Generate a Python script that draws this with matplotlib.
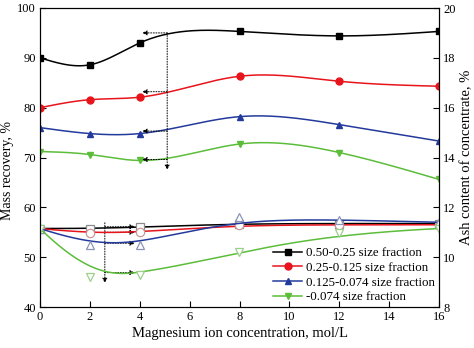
import numpy as np
import matplotlib.pyplot as plt

plt.rcParams['font.family'] = ['Liberation Serif', 'DejaVu Serif']

# Magnesium ion concentration, mol/L
conc = [0, 2, 4, 8, 12, 16]

# mass recovery, % (filled markers, left axis)
mass_050 = [90.0, 88.6, 93.0, 95.3, 94.4, 95.3]
mass_025 = [80.0, 81.6, 82.1, 86.3, 85.3, 84.3]
mass_0125 = [76.0, 74.8, 74.8, 78.2, 76.6, 73.3]
mass_0074 = [71.2, 70.6, 69.4, 72.7, 71.0, 65.6]

# ash content of concentrate, % (open markers, right axis)
ash_050 = [11.15, 11.15, 11.2, 11.35, 11.35, 11.35]
ash_025 = [11.15, 10.95, 11.0, 11.3, 11.3, 11.3]
ash_0125 = [11.15, 10.5, 10.5, 11.6, 11.5, 11.4]
ash_0074 = [11.15, 9.2, 9.3, 10.2, 10.95, 11.15]

labels = ['0.50-0.25 size fraction', '0.25-0.125 size fraction',
          '0.125-0.074 size fraction', '-0.074 size fraction']
colors = ['black', '#e8141c', '#233a9c', '#5cbd3a']
open_colors = ['#8c8c8c', '#c79a9a', '#8b94b8', '#9ccf8a']
markers = ['s', 'o', '^', 'v']


def natural_spline(x, y, n=200):
    # natural cubic spline through the points
    x = np.asarray(x, float); y = np.asarray(y, float)
    k = len(x)
    h = np.diff(x)
    A = np.zeros((k, k)); r = np.zeros(k)
    A[0, 0] = A[-1, -1] = 1
    for i in range(1, k - 1):
        A[i, i - 1] = h[i - 1]
        A[i, i] = 2 * (h[i - 1] + h[i])
        A[i, i + 1] = h[i]
        r[i] = 3 * ((y[i + 1] - y[i]) / h[i] - (y[i] - y[i - 1]) / h[i - 1])
    c = np.linalg.solve(A, r)
    xs = np.linspace(x[0], x[-1], n)
    idx = np.clip(np.searchsorted(x, xs) - 1, 0, k - 2)
    dx = xs - x[idx]
    b = (y[1:] - y[:-1]) / h - h * (2 * c[:-1] + c[1:]) / 3
    d = (c[1:] - c[:-1]) / (3 * h)
    ys = y[idx] + b[idx] * dx + c[idx] * dx ** 2 + d[idx] * dx ** 3
    return xs, ys


def bspline(x, y, n=200, deg=3):
    # clamped B-spline using the points as control points
    P = np.column_stack([x, y]).astype(float)
    m = len(P)
    inner = np.arange(1, m - deg)
    t = np.concatenate([np.zeros(deg + 1), inner, np.full(deg + 1, m - deg)]).astype(float)
    us = np.linspace(0, m - deg, n)
    us[-1] -= 1e-9

    def basis(i, p, u):
        if p == 0:
            return ((t[i] <= u) & (u < t[i + 1])).astype(float)
        out = np.zeros_like(u)
        if t[i + p] != t[i]:
            out += (u - t[i]) / (t[i + p] - t[i]) * basis(i, p - 1, u)
        if t[i + p + 1] != t[i + 1]:
            out += (t[i + p + 1] - u) / (t[i + p + 1] - t[i + 1]) * basis(i + 1, p - 1, u)
        return out

    B = np.array([basis(i, deg, us) for i in range(m)])
    pts = B.T @ P
    return pts[:, 0], pts[:, 1]


fig = plt.figure(figsize=(4.74, 3.48), dpi=100)
ax = fig.add_axes([40 / 474, 41 / 348, 399 / 474, 299 / 348])
ax2 = ax.twinx()

mass = [mass_050, mass_025, mass_0125, mass_0074]
ash = [ash_050, ash_025, ash_0125, ash_0074]

for m, a, c, oc, mk, lab in zip(mass, ash, colors, open_colors, markers, labels):
    xs, ys = natural_spline(conc, m)
    ax.plot(xs, ys, color=c, lw=1.1)
    ax.plot(conc, m, ls='none', marker=mk, color=c, ms=5)
    ax.plot([], [], color=c, lw=1.1, marker=mk, ms=5, label=lab)
    xs, ys = bspline(conc, a)
    ax2.plot(xs, ys, color=c, lw=1.1)
    ax2.plot(conc, a, ls='none', marker=mk, mfc='white', mec=oc,
             ms=6, mew=0.9)

# dotted guide lines with arrows
arr = dict(arrowstyle='-|>', color='black', lw=0.7, ls=':',
           mutation_scale=7, shrinkA=0, shrinkB=0)
ax.annotate('', xy=(5.1, 67.5), xytext=(5.1, 95.0), arrowprops=arr)
for yv in [95.0, 83.2, 75.3, 69.6]:
    ax.annotate('', xy=(4.1, yv), xytext=(5.1, yv), arrowprops=arr)
ax.annotate('', xy=(2.6, 44.8), xytext=(2.6, 56.9), arrowprops=arr)
for yv in [56.1, 55.0, 52.8, 46.9]:
    ax.annotate('', xy=(3.8, yv), xytext=(2.6, yv), arrowprops=arr)

ax.set_xlim(0, 16)
ax.set_ylim(40, 100)
ax2.set_ylim(8, 20)
ax.set_xticks(range(0, 17, 2))
ax.set_yticks(range(40, 101, 10))
ax2.set_yticks(range(8, 21, 2))
ax.tick_params(direction='in', labelsize=9, length=4, pad=3)
ax2.tick_params(direction='in', labelsize=9, length=4, pad=3)
ax.set_xlabel('Magnesium ion concentration, mol/L', fontsize=10.5, labelpad=3)
ax.set_ylabel('Mass recovery, %', fontsize=10, labelpad=2)
ax.yaxis.label.set_y(0.458)
ax2.set_ylabel('Ash content of concentrate, %', fontsize=10.5, labelpad=3)

ax.legend(loc='lower right', frameon=False, fontsize=9.3, handlelength=2.3,
          labelspacing=0.2, borderpad=0, borderaxespad=0.3, handletextpad=0.3)

fig.savefig('out.png', dpi=100)
